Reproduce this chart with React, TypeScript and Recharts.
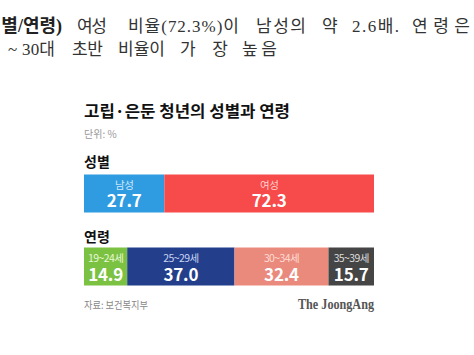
import React from 'react'
import { BarChart, Bar, XAxis, YAxis, LabelList } from 'recharts'

const rowNames = ['성별', '연령']
const genderLabels = ['남성', '여성']
const genderValues = [27.7, 72.3]
const ageLabels = ['19~24세', '25~29세', '30~34세', '35~39세']
const ageValues = [14.9, 37.0, 32.4, 15.7]

const genderColors = ['#2f9be0', '#f74a4a']
const genderTextColors = ['#cfe8fa', '#ffd0cc']
const ageColors = ['#7cc242', '#233f8c', '#ea8a7c', '#454545']
const ageTextColors = ['#e8f7d6', '#c9d3f2', '#ffdcd4', '#dddddd']

const keysG = genderLabels.map((_, i) => `g${i}`)
const keysA = ageLabels.map((_, i) => `a${i}`)

const data = rowNames.map((name, r) => {
  const row: Record<string, any> = { name }
  keysG.forEach((k, i) => (row[k] = r === 0 ? genderValues[i] : 0))
  keysA.forEach((k, i) => (row[k] = r === 1 ? ageValues[i] : 0))
  return row
})

const segs = [
  ...keysG.map((k, i) => ({ key: k, label: genderLabels[i], fill: genderColors[i], tc: genderTextColors[i], top: 14, bottom: 32 })),
  ...keysA.map((k, i) => ({ key: k, label: ageLabels[i], fill: ageColors[i], tc: ageTextColors[i], top: 14, bottom: 33 })),
]

const KR = "'Noto Sans CJK KR', 'Noto Sans', sans-serif"
const SERIF = "'Liberation Serif', 'Noto Sans CJK KR', serif"

const segLabel = (label: string, tc: string, top: number, bottom: number) => (props: any) => {
  const { value } = props
  if (!value) return null
  const x = Number(props.x)
  const y = Number(props.y)
  const w = Number(props.width)
  const cx = x + w / 2
  return (
    <g>
      <text x={cx} y={y + top} textAnchor="middle" fontFamily={KR} fontSize={10.5} letterSpacing={-0.6} fill={tc}>
        {label}
      </text>
      <text x={cx} y={y + bottom} textAnchor="middle" fontFamily={KR} fontWeight={700} fontSize={17} letterSpacing={-0.2} fill="#ffffff">
        {Number(value).toFixed(1)}
      </text>
    </g>
  )
}

// words of the article text above the graphic: [text, x, width]
const line1: [string, number, number][] = [
  ['여성', 77, 30],
  ['비율(72.3%)이', 128, 111],
  ['남성의', 256, 50],
  ['약', 322, 15],
  ['2.6배.', 352, 47],
  ['연령은', 412, 58],
]
const line2: [string, number, number][] = [
  ['~ 30대', 8, 47],
  ['초반', 72, 31],
  ['비율이', 118, 47],
  ['가장', 180, 48],
  ['높음', 242, 35],
]

export default function App() {
  return (
    <div style={{ position: 'absolute', left: 0, top: 0, width: 474, height: 355, background: '#fff', overflow: 'hidden' }}>
      <BarChart
        width={474}
        height={355}
        data={data}
        layout="vertical"
        margin={{ top: 156.5, right: 100, bottom: 52.5, left: 84 }}
        barSize={38}
      >
        <XAxis type="number" domain={[0, 100]} hide />
        <YAxis type="category" dataKey="name" hide />
        {segs.map((s) => (
          <Bar key={s.key} dataKey={s.key} stackId="s" fill={s.fill} isAnimationActive={false}>
            <LabelList dataKey={s.key} content={segLabel(s.label, s.tc, s.top, s.bottom)} />
          </Bar>
        ))}
      </BarChart>
      <svg width={474} height={355} style={{ position: 'absolute', left: 0, top: 0, pointerEvents: 'none' }}>
        <text x={62} y={32} textAnchor="end" fontFamily={SERIF} fontWeight={700} fontSize={18} fill="#222">
          (성별/연령)
        </text>
        {line1.map(([t, x, w]) => (
          <text key={t} x={x} y={32} fontFamily={SERIF} fontSize={17} fill="#333" textLength={w} lengthAdjust="spacing">
            {t}
          </text>
        ))}
        {line2.map(([t, x, w]) => (
          <text key={t} x={x} y={55} fontFamily={SERIF} fontSize={17} fill="#333" textLength={w} lengthAdjust="spacing">
            {t}
          </text>
        ))}
        <text x={84} y={117} fontFamily={KR} fontWeight={700} fontSize={16} fill="#111" textLength={206} lengthAdjust="spacingAndGlyphs">
          고립·은둔 청년의 성별과 연령
        </text>
        <text x={84} y={138} fontFamily={KR} fontSize={10} fill="#999">
          단위: %
        </text>
        <text x={84} y={167} fontFamily={KR} fontWeight={700} fontSize={14} fill="#111">
          {rowNames[0]}
        </text>
        <text x={84} y={242} fontFamily={KR} fontWeight={700} fontSize={14} fill="#111">
          {rowNames[1]}
        </text>
        <text x={84} y={309} fontFamily={KR} fontSize={10.5} fill="#888" textLength={64} lengthAdjust="spacingAndGlyphs">
          자료: 보건복지부
        </text>
        <text x={298} y={309} fontFamily={SERIF} fontWeight={700} fontSize={14} fill="#555" textLength={76} lengthAdjust="spacingAndGlyphs">
          The JoongAng
        </text>
      </svg>
    </div>
  )
}
